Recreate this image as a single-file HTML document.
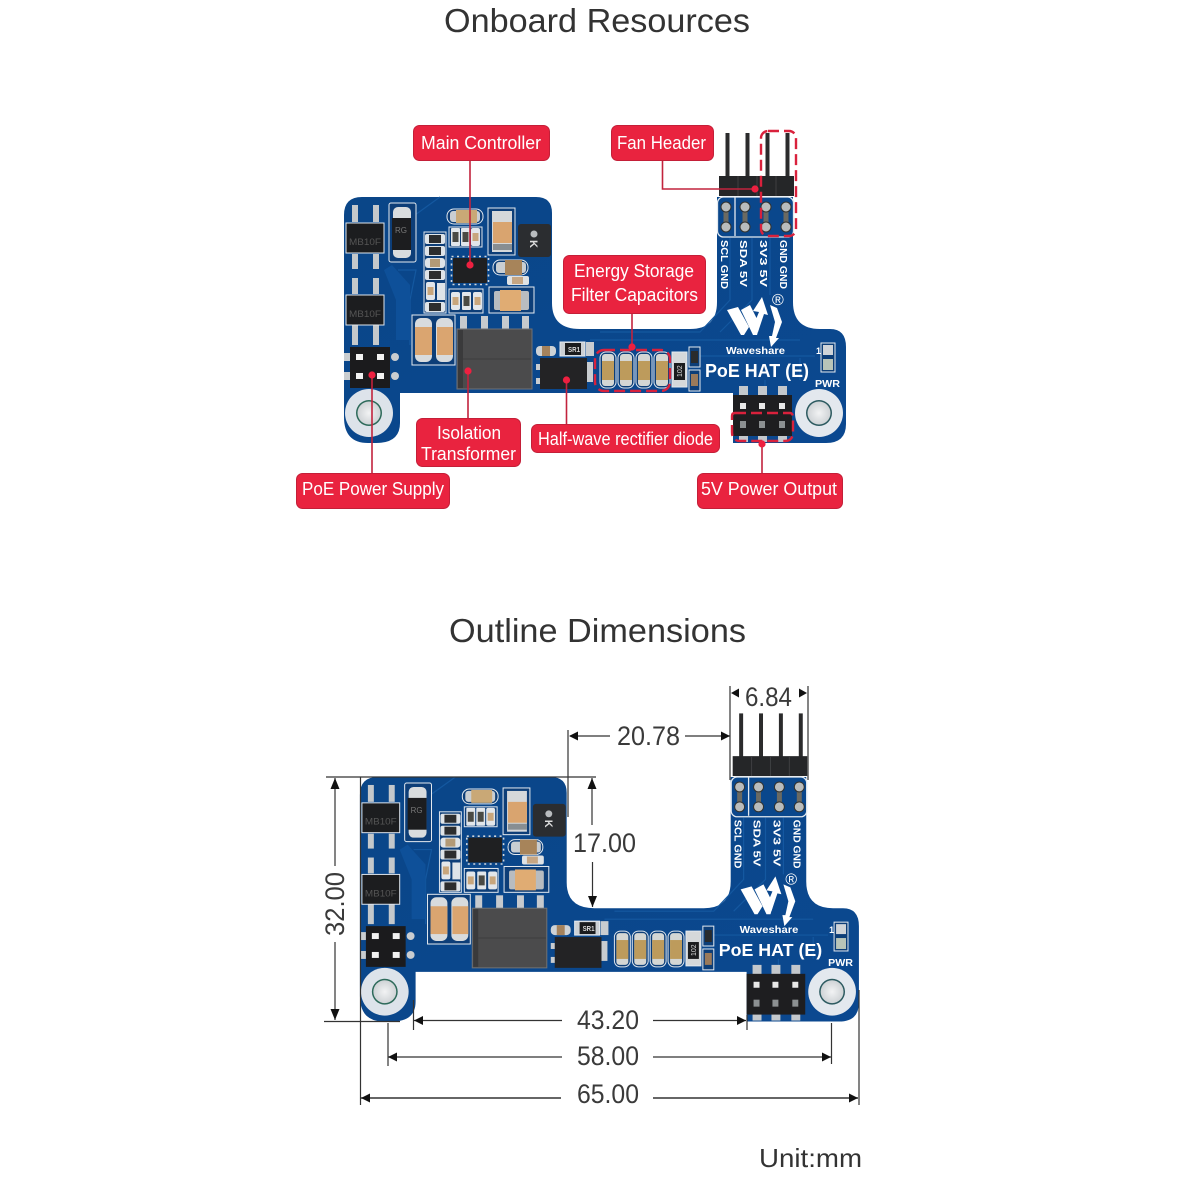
<!DOCTYPE html>
<html><head><meta charset="utf-8"><style>
html,body{margin:0;padding:0;background:#fff}
svg{display:block}
text{font-family:"Liberation Sans",sans-serif}
.l{fill:#fff;font-size:18px}
.d{fill:#3a3a3a;font-size:27px}
.w{fill:#fff;font-weight:bold}
</style></head><body>
<svg width="1200" height="1200" viewBox="0 0 1200 1200" xmlns="http://www.w3.org/2000/svg">
<defs>
<linearGradient id="bg" x1="0" y1="0" x2="1" y2="1"><stop offset="0" stop-color="#0a4688"/><stop offset="1" stop-color="#0b4890"/></linearGradient>
<radialGradient id="hl"><stop offset="0" stop-color="#f2f3f4"/><stop offset="1" stop-color="#cfd3d6"/></radialGradient>
<g id="br"><rect x="0" y="0" width="38" height="30" fill="#1c1d1f" stroke="#dfe6ee" stroke-width="1"/></g>
<g id="cap4"><rect x="0" y="0" width="16" height="36" rx="6" fill="#0d3e78" stroke="#dfe6ee" stroke-width="1"/><rect x="2" y="2" width="12" height="32" rx="3" fill="#d4d6d4"/><rect x="2" y="9" width="12" height="19" fill="#bd9b5c"/></g>
<g id="res"><rect x="0" y="0" width="20" height="10" rx="2" fill="#dfe4e8"/><rect x="4" y="1" width="12" height="8" fill="#2c2d2e"/></g>
<g id="resc"><rect x="0" y="0" width="20" height="10" rx="3" fill="#dfe4e8"/><rect x="5" y="1" width="10" height="8" fill="#b39a76"/></g>
<g id="vres"><rect x="0" y="0" width="9" height="18" rx="1" fill="#e2e6ea"/><rect x="1.5" y="4" width="6" height="10" fill="#4a4a44"/></g>
<g id="vcap"><rect x="0" y="0" width="9" height="18" rx="2" fill="#e2e6ea"/><rect x="1.5" y="5" width="6" height="8" fill="#c8a67c"/></g>
<g id="board">
<path d="M344 215Q344 197 362 197H536Q552 197 552 213V303Q552 329 580 329H690Q717 329 717 302V197H793V302Q793 329 820 329H830Q846 329 846 347V424Q846 443 826 443H733V393H400V423Q400 443 376 443H368Q344 443 344 417Z" fill="url(#bg)"/>
<g fill="none" stroke="#1458a0" stroke-width="1.2">
<path d="M440 197L415 215M398 270H416L410 300V345M600 332H700L730 300V238M752 238V300L720 332M770 238V295M590 340H800M700 356H815M765 380V392M800 358V380"/>
</g>
<path d="M392 265L410 285V340H396V300L384 270Z" fill="#0e5099"/>
<!-- bridges -->
<g fill="#c4c8cb"><rect x="352" y="205" width="6" height="17"/><rect x="373" y="205" width="6" height="17"/><rect x="352" y="254" width="6" height="15"/><rect x="373" y="254" width="6" height="15"/><rect x="352" y="278" width="6" height="16"/><rect x="373" y="278" width="6" height="16"/><rect x="352" y="325" width="6" height="20"/><rect x="373" y="325" width="6" height="20"/></g>
<use href="#br" x="346" y="223"/><use href="#br" x="346" y="295"/>
<!-- RG diode -->
<rect x="389" y="203" width="27" height="59" rx="2" fill="#0d3e78" stroke="#e4eaf0"/>
<rect x="393" y="207" width="18" height="51" rx="5" fill="#d9dcde"/>
<rect x="392" y="218" width="19" height="32" fill="#1c1d1f"/>
<!-- inductor -->
<rect x="518" y="224" width="33" height="33" rx="3" fill="#2b2d30"/><circle cx="534" cy="234" r="3.5" fill="#b9bcbf"/>
<!-- tant top -->
<rect x="488" y="208" width="27" height="47" fill="#0d3e78" stroke="#e4eaf0"/><rect x="492" y="211" width="20" height="41" fill="#d5d8da"/><rect x="493" y="222" width="19" height="21" fill="#d9a46f"/><rect x="493" y="244" width="19" height="6" fill="#888e92"/>
<!-- small horizontal cap -->
<rect x="447" y="209" width="36" height="15" rx="7" fill="#0d3e78" stroke="#e4eaf0"/><rect x="450" y="211" width="30" height="11" rx="3" fill="#c9ced2"/><rect x="456" y="210" width="21" height="13" fill="#c9a876"/>
<!-- IC -->
<rect x="453" y="258" width="34" height="25" rx="1" fill="#1f2022"/>
<g stroke="#d4d8dc" stroke-width="1.6" stroke-dasharray="2 3.5" fill="none"><rect x="451.5" y="256.5" width="37" height="28"/></g>
<!-- resistor column -->
<g><rect x="424" y="232" width="22" height="81" fill="#0d3e78" stroke="#dfe6ee"/>
<use href="#res" x="425" y="234"/><use href="#res" x="425" y="246"/><use href="#resc" x="425" y="258"/><use href="#res" x="425" y="270"/><use href="#vcap" x="426" y="282"/><rect x="437" y="283" width="8" height="17" fill="#dfe4e8"/><use href="#res" x="425" y="302"/></g>
<rect x="449" y="227" width="33" height="20" fill="#0d3e78" stroke="#dfe6ee"/><use href="#vres" x="451" y="228"/><use href="#vres" x="461" y="228"/><use href="#vcap" x="471" y="228"/>
<rect x="449" y="289" width="34" height="24" fill="#0d3e78" stroke="#dfe6ee"/><use href="#vcap" x="451" y="292"/><use href="#vres" x="462" y="292"/><use href="#vcap" x="473" y="292"/>
<!-- mid caps -->
<rect x="493" y="260" width="35" height="15" rx="7" fill="#0d3e78" stroke="#e4eaf0"/><rect x="496" y="262" width="30" height="11" rx="3" fill="#c9ced2"/><rect x="505" y="260" width="17" height="15" fill="#a7845a"/>
<rect x="507" y="276" width="22" height="9" rx="2" fill="#dfe2e4"/><rect x="512" y="277" width="11" height="7" fill="#c6a683"/>
<rect x="489" y="287" width="45" height="26" fill="#0d3e78" stroke="#e4eaf0"/><rect x="494" y="291" width="35" height="19" rx="2" fill="#b8bcc0"/><rect x="500" y="290" width="21" height="21" fill="#e0ac73"/>
<!-- lower tants -->
<rect x="412" y="315" width="43" height="50" fill="#0d3e78" stroke="#e4eaf0"/>
<rect x="415" y="318" width="17" height="44" rx="6" fill="#d8dbdd"/><rect x="436" y="318" width="17" height="44" rx="6" fill="#d8dbdd"/>
<rect x="415" y="327" width="17" height="28" fill="#daa570"/><rect x="437" y="327" width="16" height="28" fill="#daa570"/>
<!-- transformer -->
<g fill="#c6cace"><rect x="460" y="316" width="7" height="14"/><rect x="481" y="316" width="7" height="14"/><rect x="502" y="316" width="7" height="14"/><rect x="522" y="316" width="7" height="14"/></g>
<rect x="457" y="329" width="75" height="60" fill="#4b4b4c" stroke="#6f7276"/><rect x="458" y="330" width="5" height="58" fill="#3a3a3b"/><line x1="463" y1="359" x2="531" y2="359" stroke="#3d3d3e"/>
<!-- PoE header -->
<g fill="#c9cdd0"><rect x="344" y="353" width="8" height="8"/><rect x="344" y="372" width="8" height="8"/><circle cx="395" cy="357" r="4"/><circle cx="395" cy="376" r="4"/></g>
<rect x="350" y="347" width="40" height="41" fill="#1b1b1d"/>
<g fill="#f2f2f2"><rect x="356" y="354" width="7" height="6"/><rect x="377" y="354" width="7" height="6"/><rect x="356" y="373" width="7" height="6"/><rect x="377" y="373" width="7" height="6"/></g>
<!-- holes -->
<circle cx="369" cy="413" r="24" fill="#dde3ea"/><circle cx="369" cy="413" r="13" fill="#2d6a5a"/><circle cx="369" cy="413" r="11.5" fill="url(#hl)"/>
<circle cx="819" cy="413" r="24" fill="#e3e8ee"/><circle cx="819" cy="413" r="13" fill="#2c5a60"/><circle cx="819" cy="413" r="11.5" fill="url(#hl)"/>
<!-- rail -->
<rect x="536" y="346" width="20" height="10" rx="4" fill="#cdd2d6"/><rect x="542" y="346" width="8" height="10" fill="#a4825c"/>
<rect x="560" y="342" width="25" height="14" fill="#ccd0d4" stroke="#e4eaf0"/><rect x="565" y="343" width="16" height="12" fill="#1b1c1e"/>
<rect x="586" y="342" width="8" height="14" fill="#c8ccd0"/>
<rect x="536" y="364" width="5" height="6" fill="#c8ccd0"/><rect x="536" y="378" width="5" height="6" fill="#c8ccd0"/><rect x="587" y="362" width="6" height="20" fill="#c8ccd0"/>
<rect x="540" y="358" width="47" height="31" fill="#232325"/>
<use href="#cap4" x="600" y="352"/><use href="#cap4" x="618" y="352"/><use href="#cap4" x="636" y="352"/><use href="#cap4" x="654" y="352"/>
<rect x="672" y="352" width="15" height="35" fill="#d5d8da" stroke="#e4eaf0"/><rect x="674" y="363" width="11" height="17" fill="#1b1c1e"/>
<rect x="689" y="347" width="11" height="20" fill="#0d3e78" stroke="#e4eaf0"/><rect x="691" y="351" width="7" height="12" fill="#2a2b2c"/>
<rect x="689" y="370" width="11" height="21" fill="#0d3e78" stroke="#e4eaf0"/><rect x="691" y="374" width="7" height="12" fill="#9b7a5a"/>
<!-- header top -->
<rect x="717.5" y="197" width="76" height="40" rx="6" fill="none" stroke="#e4eaf0" stroke-width="1.3"/><line x1="735" y1="197" x2="735" y2="236" stroke="#e4eaf0" stroke-width="1.3"/>
<g stroke="#6b6a62" stroke-width="5"><line x1="726" y1="205" x2="726" y2="227"/><line x1="745" y1="205" x2="745" y2="227"/><line x1="766" y1="205" x2="766" y2="227"/><line x1="786" y1="205" x2="786" y2="227"/></g>
<g fill="#b9bcbc" stroke="#33322e" stroke-width="1"><circle cx="726" cy="207" r="5"/><circle cx="745" cy="207" r="5"/><circle cx="766" cy="207" r="5"/><circle cx="786" cy="207" r="5"/><circle cx="726" cy="227" r="5"/><circle cx="745" cy="227" r="5"/><circle cx="766" cy="227" r="5"/><circle cx="786" cy="227" r="5"/></g>
<g fill="#2b2b2c"><rect x="725.5" y="133" width="4" height="45"/><rect x="745.5" y="133" width="4" height="45"/><rect x="765.5" y="133" width="4" height="45"/><rect x="785.5" y="133" width="4" height="45"/></g>
<rect x="719" y="176" width="75" height="20" fill="#252628"/>
<g stroke="#3e3f41" stroke-width="1"><line x1="738" y1="176" x2="738" y2="196"/><line x1="757" y1="176" x2="757" y2="196"/><line x1="776" y1="176" x2="776" y2="196"/></g>
<!-- logo -->
<g fill="#fff">
<polygon points="727,310 738,307 749,327 744,335 741,335"/>
<polygon points="741,310 750,305 760,325 757,335 753,335"/>
<polygon points="753,311 762,297 768,315 764,314 758,332 754,324 759,312"/>
<polygon points="770,305 777,308 782,322 776,338 779,338 771,347 769,336 772,336 775,322"/>
</g>
<!-- LED -->
<rect x="821" y="343" width="14" height="29" fill="#0d3e78" stroke="#e4eaf0"/><rect x="823" y="345" width="10" height="10" fill="#d0d4d8"/><rect x="823" y="359" width="10" height="11" fill="#b8c4b8"/>
<!-- bottom header -->
<g fill="#c4c8cc"><rect x="739" y="386" width="9" height="10"/><rect x="758" y="386" width="9" height="10"/><rect x="778" y="386" width="9" height="10"/><rect x="739" y="434" width="9" height="8"/><rect x="758" y="434" width="9" height="8"/><rect x="778" y="434" width="9" height="8"/></g>
<rect x="733" y="395" width="59" height="41" fill="#1e1e20"/>
<g fill="#e8e8e8"><rect x="740" y="403" width="6" height="6"/><rect x="759" y="403" width="6" height="6"/><rect x="779" y="403" width="6" height="6"/></g>
<g fill="#8c9092"><rect x="740" y="421" width="6" height="7"/><rect x="759" y="421" width="6" height="7"/><rect x="779" y="421" width="6" height="7"/></g>
</g>
</defs>

<!-- titles -->
<text x="444" y="32" font-size="33" fill="#333" textLength="306" lengthAdjust="spacingAndGlyphs">Onboard Resources</text>
<text x="449" y="642" font-size="33" fill="#333" textLength="297" lengthAdjust="spacingAndGlyphs">Outline Dimensions</text>

<!-- top board -->
<use href="#board"/>
<g>
<text class="w" x="705" y="377" font-size="18" textLength="104" lengthAdjust="spacingAndGlyphs">PoE HAT (E)</text>
<text class="w" x="726" y="354" font-size="10" textLength="59" lengthAdjust="spacingAndGlyphs">Waveshare</text>
<text class="w" x="815" y="387" font-size="10" textLength="25" lengthAdjust="spacingAndGlyphs">PWR</text>
<text class="w" x="816" y="354" font-size="9">1</text>
<text class="w" x="772" y="305" font-size="16" style="font-weight:normal">®</text>
<g font-size="10"><text class="w" transform="translate(721,240) rotate(90)" textLength="49" lengthAdjust="spacingAndGlyphs">SCL  GND</text><text class="w" transform="translate(740,240) rotate(90)" textLength="47" lengthAdjust="spacingAndGlyphs">SDA   5V</text><text class="w" transform="translate(760,240) rotate(90)" textLength="47" lengthAdjust="spacingAndGlyphs">3V3   5V</text><text class="w" transform="translate(780,240) rotate(90)" textLength="49" lengthAdjust="spacingAndGlyphs">GND GND</text></g>
<text x="568" y="352" font-size="7" fill="#ddd" font-weight="bold" textLength="12" lengthAdjust="spacingAndGlyphs">SR1</text>
<text x="349" y="245" font-size="9" fill="#555" textLength="32" lengthAdjust="spacingAndGlyphs">MB10F</text>
<text x="349" y="317" font-size="9" fill="#555" textLength="32" lengthAdjust="spacingAndGlyphs">MB10F</text>
<text x="395" y="233" font-size="8" fill="#777">RG</text>
<text transform="translate(530,240) rotate(90)" font-size="11" fill="#ddd" font-weight="bold">K</text>
<text transform="translate(682,377) rotate(-90)" font-size="7" fill="#ddd">102</text>
</g>

<!-- dashes -->
<g fill="none" stroke="#d9213c" stroke-width="2.4" stroke-dasharray="11 5">
<rect x="761" y="131" width="35" height="105" rx="7"/>
<rect x="595" y="350" width="75" height="41" rx="9"/>
<path d="M735 413H790Q793 413 793 418V432Q793 441 785 441H740Q732 441 732 432V416Q732 413 735 413Z"/>
</g>

<!-- connectors -->
<g stroke="#c2233d" stroke-width="1.6" fill="none">
<path d="M470 160V265"/><path d="M662.5 160V189H755"/><path d="M632 313V347"/><path d="M468 371V418"/><path d="M566.5 380V424"/><path d="M372 375V473"/><path d="M762 444V473"/>
</g>
<g fill="#ee2040"><circle cx="470" cy="265" r="3.6"/><circle cx="755" cy="189" r="3.6"/><circle cx="632" cy="347" r="3.6"/><circle cx="468" cy="371" r="3.6"/><circle cx="566.5" cy="380" r="3.6"/><circle cx="372" cy="375" r="3.6"/><circle cx="762" cy="444" r="3.6"/></g>

<!-- label boxes -->
<g fill="#e9233f" stroke="#c41f38" stroke-width="1">
<rect x="413.5" y="125.5" width="136" height="35" rx="6"/>
<rect x="611.5" y="125.5" width="102" height="35" rx="6"/>
<rect x="563.5" y="255.5" width="142" height="58" rx="6"/>
<rect x="416.5" y="418.5" width="104" height="48" rx="6"/>
<rect x="531.5" y="424.5" width="188" height="28" rx="6"/>
<rect x="296.5" y="473.5" width="153" height="35" rx="6"/>
<rect x="697.5" y="473.5" width="145" height="35" rx="6"/>
</g>
<text class="l" x="421" y="149" textLength="120" lengthAdjust="spacingAndGlyphs">Main Controller</text>
<text class="l" x="617" y="149" textLength="89" lengthAdjust="spacingAndGlyphs">Fan Header</text>
<text class="l" x="574" y="277" textLength="120" lengthAdjust="spacingAndGlyphs">Energy Storage</text>
<text class="l" x="571" y="301" textLength="127" lengthAdjust="spacingAndGlyphs">Filter Capacitors</text>
<text class="l" x="437" y="439" textLength="64" lengthAdjust="spacingAndGlyphs">Isolation</text>
<text class="l" x="421" y="460" textLength="95" lengthAdjust="spacingAndGlyphs">Transformer</text>
<text class="l" x="538" y="445" font-size="17" textLength="175" lengthAdjust="spacingAndGlyphs">Half-wave rectifier diode</text>
<text class="l" x="302" y="495" textLength="142" lengthAdjust="spacingAndGlyphs">PoE Power Supply</text>
<text class="l" x="701" y="495" textLength="136" lengthAdjust="spacingAndGlyphs">5V Power Output</text>

<!-- bottom board -->
<g transform="translate(18,581.2) scale(.994)">
<use href="#board"/>
<text class="w" x="705" y="377" font-size="18" textLength="104" lengthAdjust="spacingAndGlyphs">PoE HAT (E)</text>
<text class="w" x="726" y="354" font-size="10" textLength="59" lengthAdjust="spacingAndGlyphs">Waveshare</text>
<text class="w" x="815" y="387" font-size="10" textLength="25" lengthAdjust="spacingAndGlyphs">PWR</text>
<text class="w" x="816" y="354" font-size="9">1</text>
<text class="w" x="772" y="305" font-size="16" style="font-weight:normal">®</text>
<g font-size="10"><text class="w" transform="translate(721,240) rotate(90)" textLength="49" lengthAdjust="spacingAndGlyphs">SCL  GND</text><text class="w" transform="translate(740,240) rotate(90)" textLength="47" lengthAdjust="spacingAndGlyphs">SDA   5V</text><text class="w" transform="translate(760,240) rotate(90)" textLength="47" lengthAdjust="spacingAndGlyphs">3V3   5V</text><text class="w" transform="translate(780,240) rotate(90)" textLength="49" lengthAdjust="spacingAndGlyphs">GND GND</text></g>
<text x="568" y="352" font-size="7" fill="#ddd" font-weight="bold" textLength="12" lengthAdjust="spacingAndGlyphs">SR1</text>
<text x="349" y="245" font-size="9" fill="#555" textLength="32" lengthAdjust="spacingAndGlyphs">MB10F</text>
<text x="349" y="317" font-size="9" fill="#555" textLength="32" lengthAdjust="spacingAndGlyphs">MB10F</text>
<text x="395" y="233" font-size="8" fill="#777">RG</text>
<text transform="translate(530,240) rotate(90)" font-size="11" fill="#ddd" font-weight="bold">K</text>
<text transform="translate(682,377) rotate(-90)" font-size="7" fill="#ddd">102</text>
</g>

<!-- dimensions -->
<g stroke="#333" stroke-width="1.2" fill="none">
<path d="M326 777H360M360 777H596M324 1021.5H400"/>
<path d="M335 778V866M335 942V1020"/>
<path d="M592 778V825M592.5 862V907"/>
<path d="M568 730V817M730 686V780M808 686V780"/>
<path d="M570 736H610M685 736H730"/>
<path d="M413.5 1000V1030M747 1015V1030M388 1023V1066M831.5 1023V1064M360.5 777V1105M859 990V1105"/>
<path d="M414 1020.5H562M653 1020.5H746"/>
<path d="M388 1057H562M653 1057H831"/>
<path d="M361 1098H561M653 1098H858" stroke-width="1.6"/>
</g>
<g fill="#111">
<polygon points="335,778 330.5,789 339.5,789"/><polygon points="335,1020 330.5,1009 339.5,1009"/>
<polygon points="592,778 587.5,789 596.5,789"/><polygon points="592.5,907 588,896 597,896"/>
<polygon points="569,736 578,731.5 578,740.5"/><polygon points="730,736 721,731.5 721,740.5"/>
<polygon points="731,693 739,688.5 739,697.5"/><polygon points="807,693 799,688.5 799,697.5"/>
<polygon points="414,1020.5 423,1016 423,1025"/><polygon points="746,1020.5 737,1016 737,1025"/>
<polygon points="388,1057 397,1052.5 397,1061.5"/><polygon points="831,1057 822,1052.5 822,1061.5"/>
<polygon points="361,1098 370,1093.5 370,1102.5"/><polygon points="858,1098 849,1093.5 849,1102.5"/>
</g>
<text class="d" x="745" y="706" textLength="47" lengthAdjust="spacingAndGlyphs">6.84</text>
<text class="d" x="617" y="745" textLength="63" lengthAdjust="spacingAndGlyphs">20.78</text>
<text class="d" x="573" y="852" textLength="63" lengthAdjust="spacingAndGlyphs">17.00</text>
<text class="d" transform="translate(344,936) rotate(-90)" textLength="64" lengthAdjust="spacingAndGlyphs">32.00</text>
<text class="d" x="577" y="1029" textLength="62" lengthAdjust="spacingAndGlyphs">43.20</text>
<text class="d" x="577" y="1065" textLength="62" lengthAdjust="spacingAndGlyphs">58.00</text>
<text class="d" x="577" y="1103" textLength="62" lengthAdjust="spacingAndGlyphs">65.00</text>
<text x="759" y="1167" font-size="26" fill="#333" textLength="103" lengthAdjust="spacingAndGlyphs">Unit:mm</text>
</svg>
</body></html>
